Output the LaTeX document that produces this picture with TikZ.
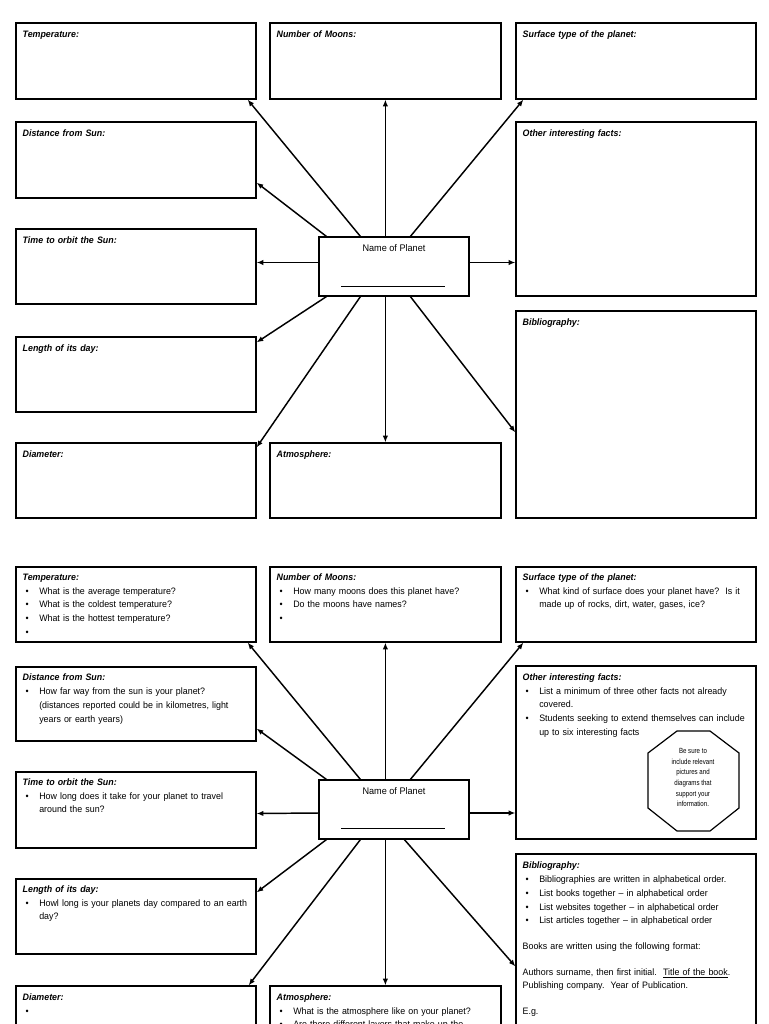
\documentclass[tikz,border=0pt]{standalone}
\usepackage{fontspec}
\setmainfont[FakeStretch=0.95]{Liberation Sans}
\newfontfamily\octfont[FakeStretch=0.82]{Liberation Sans}
\usetikzlibrary{arrows.meta,fit,calc}
\newcommand\bl{\makebox[12.45pt][l]{\hspace{2.25pt}\textbullet}}
\newcommand\ind{\hspace*{12.45pt}}
\newcommand\lab[1]{\textbf{\textit{#1}}}
\begin{document}
\begin{tikzpicture}[x=0.75pt,y=-0.75pt,
  box/.style={draw=black, line width=0.9pt, inner sep=0pt},
  body/.style={inner sep=0pt, anchor=base west, text width=180pt, align=left,
               font=\fontsize{7}{10.3}\selectfont},
  ctext/.style={inner sep=0pt, anchor=base, font=\fontsize{7.2}{8}\selectfont},
  uline/.style={line width=0.6pt},
  arr/.style={line width=1.1pt, -{Latex[length=5pt,width=4pt]}},
  oct/.style={line width=0.9pt},
  octtext/.style={inner sep=0pt, align=center, font=\octfont\fontsize{5.6}{8}\selectfont}
]
\useasboundingbox (0,0) rectangle (768,1024);
\clip (0,0) rectangle (768,1024);

% ---------------- top half ----------------
\node[box, fit={(16,23)(256,99)}] (temp1) {};
\node[box, fit={(270,23)(501,99)}] (moon1) {};
\node[box, fit={(516,23)(756,99)}] (surf1) {};
\node[box, fit={(16,122)(256,198)}] (dist1) {};
\node[box, fit={(516,122)(756,296)}] (fact1) {};
\node[box, fit={(16,229)(256,304)}] (time1) {};
\node[box, fit={(319,237)(469,296)}] (cen1) {};
\node[box, fit={(16,337)(256,412)}] (len1) {};
\node[box, fit={(16,443)(256,518)}] (diam1) {};
\node[box, fit={(270,443)(501,518)}] (atm1) {};
\node[box, fit={(516,311)(756,518)}] (bib1) {};

\node[body] (temp1t) at ($(temp1.north west)+(7,15)$) {\lab{Temperature:}};
\node[body] (moon1t) at ($(moon1.north west)+(7,15)$) {\lab{Number of Moons:}};
\node[body] (surf1t) at ($(surf1.north west)+(7,15)$) {\lab{Surface type of the planet:}};
\node[body] (dist1t) at ($(dist1.north west)+(7,15)$) {\lab{Distance from Sun:}};
\node[body] (fact1t) at ($(fact1.north west)+(7,15)$) {\lab{Other interesting facts:}};
\node[body] (time1t) at ($(time1.north west)+(7,15)$) {\lab{Time to orbit the Sun:}};
\node[body] (len1t) at ($(len1.north west)+(7,15)$) {\lab{Length of its day:}};
\node[body] (diam1t) at ($(diam1.north west)+(7,15)$) {\lab{Diameter:}};
\node[body] (atm1t) at ($(atm1.north west)+(7,15)$) {\lab{Atmosphere:}};
\node[body] (bib1t) at ($(bib1.north west)+(7,15)$) {\lab{Bibliography:}};

\node[ctext] (cen1t) at ($(cen1.north)+(0,15)$) {Name of Planet};
\draw[uline] ($(cen1.south west)+(23,-10)$) -- ($(cen1.south west)+(127,-10)$);

\draw[arr] ($(cen1.north west)+(42,0)$) -- ($(temp1.south east)+(-9,0)$);
\draw[arr] ($(cen1.north west)+(8,0)$) -- ($(dist1.south east)+(0,-16)$);
\draw[arr] ($(cen1.north west)+(67,0)$) -- ($(moon1.south west)+(116,0)$);
\draw[arr] ($(cen1.north west)+(92,0)$) -- ($(surf1.south west)+(8,0)$);
\draw[arr] ($(cen1.west)+(0,-4)$) -- ($(time1.east)+(0,-4)$);
\draw[arr] ($(cen1.east)+(0,-4)$) -- ($(fact1.west)+(0,53.5)$);
\draw[arr] ($(cen1.south west)+(8,0)$) -- ($(len1.north east)+(0,6)$);
\draw[arr] ($(cen1.south west)+(42,0)$) -- ($(diam1.north east)+(0,5)$);
\draw[arr] ($(cen1.south west)+(67,0)$) -- ($(atm1.north west)+(116,0)$);
\draw[arr] ($(cen1.south west)+(92,0)$) -- ($(bib1.north west)+(0,122)$);

% ---------------- bottom half ----------------
\node[box, fit={(16,567)(256,642)}] (temp2) {};
\node[box, fit={(270,567)(501,642)}] (moon2) {};
\node[box, fit={(516,567)(756,642)}] (surf2) {};
\node[box, fit={(16,667)(256,741)}] (dist2) {};
\node[box, fit={(516,666)(756,839)}] (fact2) {};
\node[box, fit={(16,772)(256,848)}] (time2) {};
\node[box, fit={(319,780)(469,839)}] (cen2) {};
\node[box, fit={(16,879)(256,954)}] (len2) {};
\node[box, fit={(16,986)(256,1060)}] (diam2) {};
\node[box, fit={(270,986)(501,1060)}] (atm2) {};
\node[box, fit={(516,854)(756,1100)}] (bib2) {};

\node[body] (temp2t) at ($(temp2.north west)+(7,14)$) {\lab{Temperature:}\\
  \bl What is the average temperature?\\
  \bl What is the coldest temperature?\\
  \bl What is the hottest temperature?\\
  \bl};
\node[body] (moon2t) at ($(moon2.north west)+(7,14)$) {\lab{Number of Moons:}\\
  \bl How many moons does this planet have?\\
  \bl Do the moons have names?\\
  \bl};
\node[body] (surf2t) at ($(surf2.north west)+(7,14)$) {\lab{Surface type of the planet:}\\
  \bl What kind of surface does your planet have?\ \ Is it\\
  \ind made up of rocks, dirt, water, gases, ice?};
\node[body] (dist2t) at ($(dist2.north west)+(7,14.5)$) {\lab{Distance from Sun:}\\
  \bl How far way from the sun is your planet?\\
  \ind (distances reported could be in kilometres, light\\
  \ind years or earth years)};
\node[body] (fact2t) at ($(fact2.north west)+(7,15)$) {\lab{Other interesting facts:}\\
  \bl List a minimum of three other facts not already\\
  \ind covered.\\
  \bl Students seeking to extend themselves can include\\
  \ind up to six interesting facts};
\node[body] (time2t) at ($(time2.north west)+(7,14)$) {\lab{Time to orbit the Sun:}\\
  \bl How long does it take for your planet to travel\\
  \ind around the sun?};
\node[body] (len2t) at ($(len2.north west)+(7,14)$) {\lab{Length of its day:}\\
  \bl Howl long is your planets day compared to an earth\\
  \ind day?};
\node[body] (diam2t) at ($(diam2.north west)+(7,15)$) {\lab{Diameter:}\\
  \bl};
\node[body] (atm2t) at ($(atm2.north west)+(7,15)$) {\lab{Atmosphere:}\\
  \bl What is the atmosphere like on your planet?\\
  \bl Are there different layers that make up the};
\node[body] (bib2t) at ($(bib2.north west)+(7,15.5)$) {\lab{Bibliography:}\\
  \bl Bibliographies are written in alphabetical order.\\
  \bl List books together – in alphabetical order\\
  \bl List websites together – in alphabetical order\\
  \bl List articles together – in alphabetical order\\[8.9pt]
  Books are written using the following format:\\[8.9pt]
  Authors surname, then first initial.\ \ \underline{Title of the book}.\\
  Publishing company.\ \ Year of Publication.\\[8.9pt]
  E.g.};

\node[ctext] (cen2t) at ($(cen2.north)+(0,15)$) {Name of Planet};
\draw[uline] ($(cen2.south west)+(23,-11)$) -- ($(cen2.south west)+(127,-11)$);

\draw[oct] (677,731) -- (710,731) -- (739,753) -- (739,808) -- (710,831)
  -- (677,831) -- (648,808) -- (648,753) -- cycle;
\node[octtext] (octt) at (693,777.5) {Be sure to\\include relevant\\pictures and\\diagrams that\\support your\\information.};

\draw[arr] ($(cen2.north west)+(42,0)$) -- ($(temp2.south east)+(-9,0)$);
\draw[arr] ($(cen2.north west)+(8,0)$) -- ($(dist2.south east)+(0,-13)$);
\draw[arr] ($(cen2.north west)+(67,0)$) -- ($(moon2.south west)+(116,0)$);
\draw[arr] ($(cen2.north west)+(92,0)$) -- ($(surf2.south west)+(8,0)$);
\draw[arr] ($(cen2.west)+(0,3.5)$) -- ($(time2.east)+(0,3.5)$);
\draw[arr] ($(cen2.east)+(0,3.5)$) -- ($(fact2.west)+(0,60.5)$);
\draw[arr] ($(cen2.south west)+(8,0)$) -- ($(len2.north east)+(0,14)$);
\draw[arr] ($(cen2.south west)+(42,0)$) -- ($(diam2.north east)+(-8,0)$);
\draw[arr] ($(cen2.south west)+(67,0)$) -- ($(atm2.north west)+(116,0)$);
\draw[arr] ($(cen2.south west)+(86,0)$) -- ($(bib2.north west)+(0,113)$);
\end{tikzpicture}
\end{document}
